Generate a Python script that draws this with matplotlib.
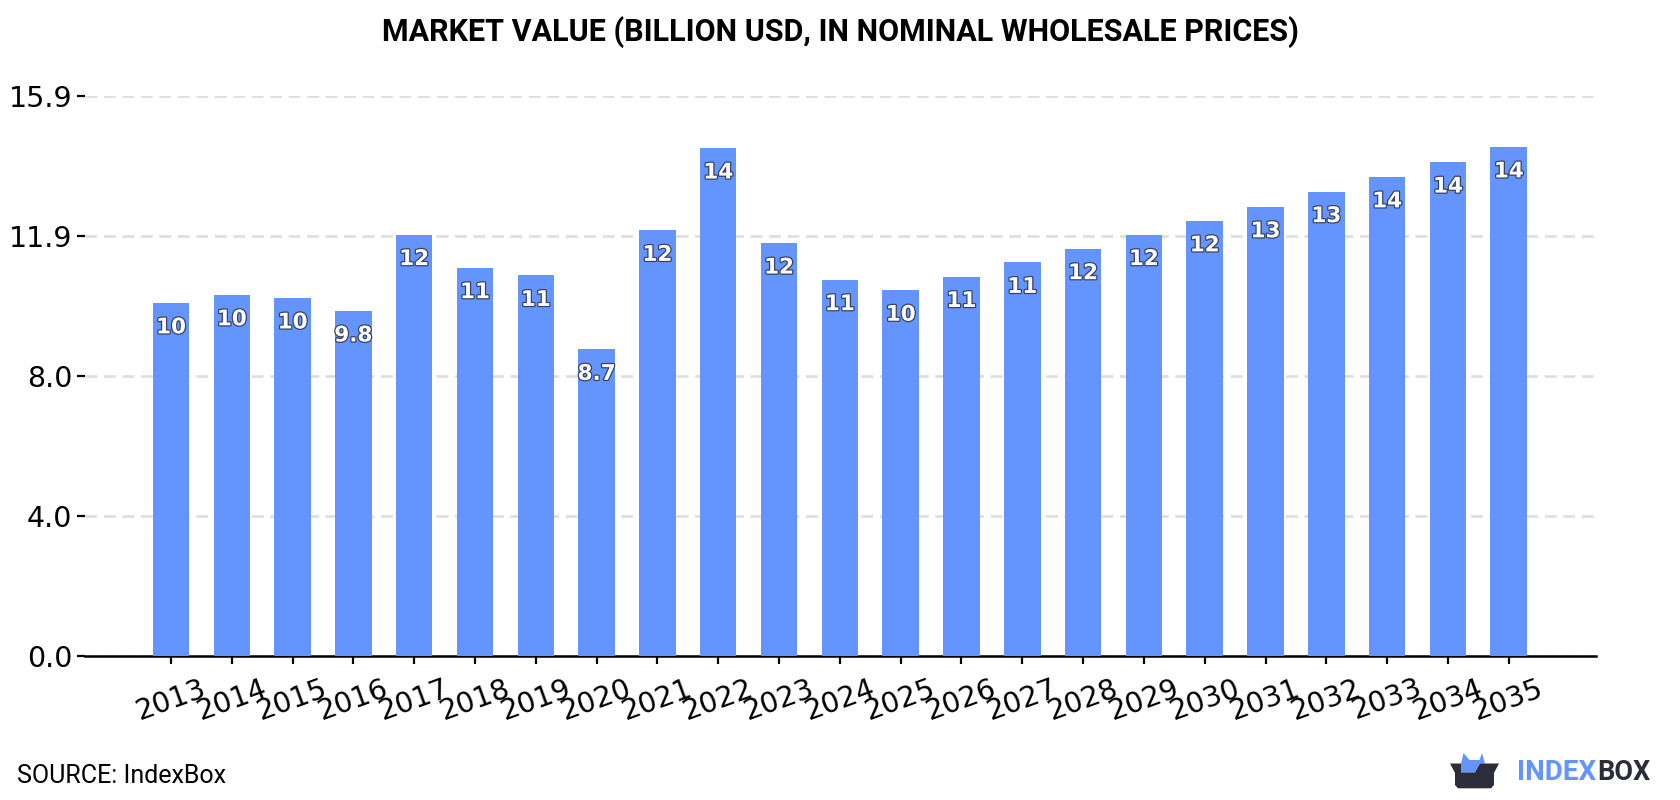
import matplotlib
matplotlib.use('Agg')
import matplotlib.pyplot as plt
import matplotlib.patheffects as pe
from matplotlib.patches import Polygon

years = list(range(2013, 2036))
values = [10.03, 10.26, 10.17, 9.80, 11.97, 11.03, 10.81, 8.71, 12.09, 14.43, 11.73, 10.69,
          10.39, 10.78, 11.18, 11.57, 11.97, 12.36, 12.76, 13.19, 13.61, 14.03, 14.46]
y_ticks = [0.0, 3.975, 7.95, 11.925, 15.9]
y_tick_labels = ['0.0', '4.0', '8.0', '11.9', '15.9']

BAR_COLOR = '#6495ff'
DARK = '#2b2d3a'

W, H = 1680, 800
fig = plt.figure(figsize=(W / 100, H / 100), dpi=100, facecolor='white')
ax = fig.add_axes([85 / W, 1 - 656 / H, (1596 - 85) / W, (656 - 96.3) / H])

ax.bar(years, values, width=0.6, color=BAR_COLOR, zorder=3)
ax.set_xlim(2013 - 1.414, 2013 + 23.435)
ax.set_ylim(0, 15.9)

ax.set_yticks(y_ticks)
ax.set_yticklabels(y_tick_labels, fontsize=20.5)
ax.set_xticks(years)
ax.set_xticklabels(years, fontsize=20.5, rotation=20, ha='center')
ax.tick_params(axis='y', length=6, width=1.6, pad=3)
ax.tick_params(axis='x', length=6, width=1.6, pad=7)
ax.yaxis.grid(True, color='#dedede', lw=1.9, linestyle=(0, (4.5, 2.5)), zorder=0)
ax.set_axisbelow(True)
for side in ['left', 'right', 'top']:
    ax.spines[side].set_visible(False)
ax.spines['bottom'].set_linewidth(1.8)

# value labels sit inside the top of each bar
for year, val in zip(years, values):
    ax.annotate(f'{val:.2g}', (year, val), xytext=(0, -17.6), textcoords='offset points',
                ha='center', va='center', fontsize=15.5, fontweight='bold', color='white',
                zorder=5, path_effects=[pe.withStroke(linewidth=1.8, foreground='#3a4260')])

fig.text(840 / W, 1 - 32 / H, 'MARKET VALUE (BILLION USD, IN NOMINAL WHOLESALE PRICES)',
         ha='center', va='center', fontsize=22, fontweight='bold', family='Roboto', color='black')
fig.text(17 / W, 1 - 776 / H, 'SOURCE: IndexBox', ha='left', va='center', fontsize=18,
         family='Roboto', color='black')

# logo, drawn on a pixel-sized overlay
logo = fig.add_axes([0, 0, 1, 1], facecolor='none')
logo.set_xlim(0, W)
logo.set_ylim(H, 0)
logo.axis('off')

ears = [(1461, 763.5), (1463.5, 753), (1469.5, 760), (1479.5, 760), (1482, 753), (1485, 763.5),
        (1480, 763.5), (1475, 772.5), (1461, 772.5)]
box = [(1450, 763.5), (1480, 763.5), (1475, 772.5), (1461, 772.5), (1461, 763.5), (1450, 763.5),
       (1455, 773), (1455, 785), (1458, 788.3), (1491, 788.3), (1494, 785), (1494, 773), (1499, 763.5)]
logo.add_patch(Polygon(ears, closed=True, fc=BAR_COLOR, ec='none'))
logo.add_patch(Polygon(box, closed=True, fc=DARK, ec='none'))
logo.text(1517, 773, 'INDEX', ha='left', va='center', fontsize=20, fontweight='bold',
          family='Roboto', color=BAR_COLOR)
logo.text(1597, 773, 'BOX', ha='left', va='center', fontsize=19.5, fontweight='bold',
          family='Roboto', color=DARK)

fig.savefig('out.png', dpi=100)
